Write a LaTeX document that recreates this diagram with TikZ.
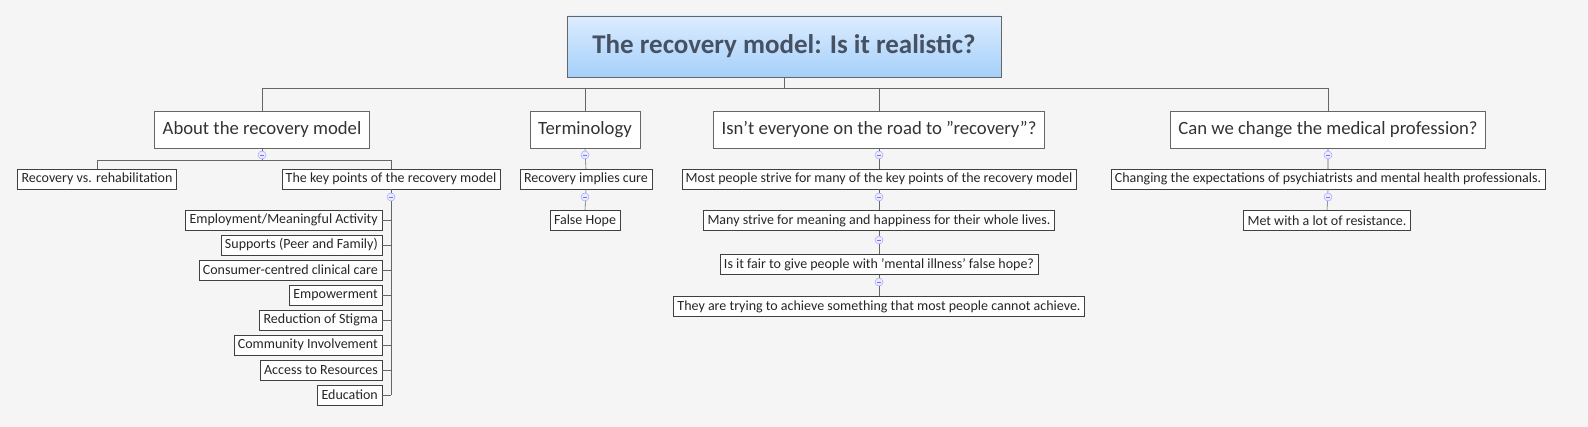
\documentclass[tikz,border=0pt]{standalone}
\usepackage{fontspec}
\setmainfont{Carlito}
\definecolor{tt}{RGB}{70,82,98}
\definecolor{gtop}{RGB}{220,236,255}
\definecolor{gbot}{RGB}{165,208,250}
\begin{document}
\begin{tikzpicture}[x=1pt,y=-1pt,
  l2/.style={draw=black!75,fill=white,font=\fontsize{14}{15}\selectfont,inner xsep=4pt,minimum height=20pt,inner ysep=0pt,text=black!85},
  l1/.style={draw=black!60,fill=white,font=\fontsize{18.7}{20}\selectfont,minimum height=37pt,inner xsep=8pt,text=black!80},
  ln/.style={draw=black!60,line width=0.6pt},
  mk/.style={circle,draw=blue!35,fill=blue!8,minimum size=8pt,inner sep=0pt,line width=0.5pt,
    path picture={\draw[blue!55,line width=0.6pt] ([xshift=-2pt]path picture bounding box.center)--([xshift=2pt]path picture bounding box.center);}}]
\fill[gray!8] (0,0) rectangle (1588,427);
\useasboundingbox (0,0) rectangle (1588,427);
\node[draw=black!60,top color=gtop,bottom color=gbot,minimum width=434pt,minimum height=61pt,font=\fontsize{27}{30}\selectfont\bfseries,text=tt] (t) at (784,46.5) {The recovery model: Is it realistic?};
\node[l1] (a) at (262,129.5) {About the recovery model};
\node[l1] (b) at (585,129.5) {Terminology};
\node[l1] (c) at (879,129.5) {Isn\symbol{39}t everyone on the road to \symbol{34}recovery\symbol{34}?};
\node[l1] (d) at (1328,129.5) {Can we change the medical profession?};
\coordinate (h) at (784,88);
\draw[ln] (t.south)--(h) (a.north)|-(h) (d.north)|-(h) (b.north)--(b.north|-h) (c.north)--(c.north|-h);
% About
\node[l2] (a1) at (97,179) {Recovery vs. rehabilitation};
\node[l2] (a2) at (391,179) {The key points of the recovery model};
\coordinate (ah) at (262,160);
\draw[ln] (a.south)--(ah) (a1.north)|-(ah) (a2.north)|-(ah);
\node[mk] at (262,155) {};
\coordinate (kt) at (391,197);
\foreach \t/\y [count=\i] in {{Employment/Meaningful Activity}/220,{Supports (Peer and Family)}/245,{Consumer-centred clinical care}/270,Empowerment/295,{Reduction of Stigma}/320,{Community Involvement}/345,{Access to Resources}/370,Education/395}{
  \node[l2,anchor=east] (k\i) at (382,\y) {\t};
}
\draw[ln] (a2.south)--(k8.east-|kt);
\foreach \i in {1,...,8}{\draw[ln] (k\i.east)--(k\i.east-|kt);}
\node[mk] at (kt) {};
% Terminology
\node[l2] (b1) at (586,179) {Recovery implies cure};
\node[l2] (b2) at (585,220.5) {False Hope};
\draw[ln] (b.south)--(b1.north) (b1.south)--(b2.north);
\node[mk] at (585,155) {};
\node[mk] at (585,197) {};
% Isn't everyone
\node[l2] (c1) at (879,179) {Most people strive for many of the key points of the recovery model};
\node[l2] (c2) at (879,220.5) {Many strive for meaning and happiness for their whole lives.};
\node[l2] (c3) at (879,264.5) {Is it fair to give people with \symbol{39}mental illness\symbol{39} false hope?};
\node[l2] (c4) at (879,306.5) {They are trying to achieve something that most people cannot achieve.};
\draw[ln] (c.south)--(c1.north) (c1.south)--(c2.north) (c2.south)--(c3.north) (c3.south)--(c4.north);
\foreach \y in {155,197,240,282}{\node[mk] at (879,\y) {};}
% Can we
\node[l2] (d1) at (1328,179) {Changing the expectations of psychiatrists and mental health professionals.};
\node[l2] (d2) at (1327,220.5) {Met with a lot of resistance.};
\draw[ln] (d.south)--(d1.north) (d1.south)--(d2.north);
\node[mk] at (1328,155) {};
\node[mk] at (1328,197) {};
\end{tikzpicture}
\end{document}
